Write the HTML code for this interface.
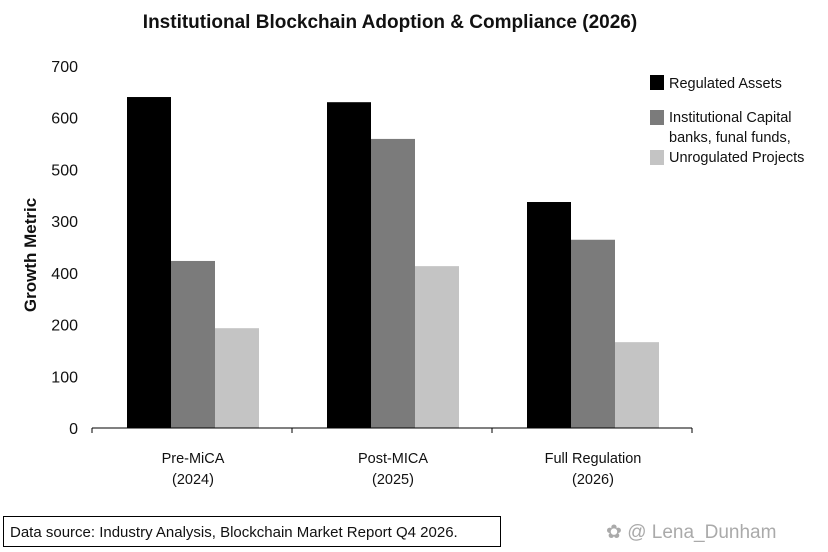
<!DOCTYPE html>
<html><head><meta charset="utf-8"><style>
body{margin:0;background:#fff;font-family:"Liberation Sans",Arial,sans-serif}
svg{display:block}
</style></head><body>
<svg width="828" height="552" viewBox="0 0 828 552">
<rect width="828" height="552" fill="#fff"/>
<text x="390" y="28" text-anchor="middle" font-size="19" font-weight="bold" fill="#111">Institutional Blockchain Adoption &amp; Compliance (2026)</text>
<text transform="translate(36,255) rotate(-90)" text-anchor="middle" font-size="17" font-weight="bold" fill="#111">Growth Metric</text>
<g id="plot"></g>
<g>
<rect x="650" y="75" width="14" height="15" fill="#000"/>
<text x="669" y="88" font-size="14.5" fill="#111">Regulated Assets</text>
<rect x="650" y="110" width="14" height="15" fill="#7b7b7b"/>
<text x="669" y="122" font-size="14.5" fill="#111">Institutional Capital</text>
<text x="669" y="142" font-size="14.5" fill="#111">banks, funal funds,</text>
<rect x="650" y="150" width="14" height="15" fill="#c4c4c4"/>
<text x="669" y="162" font-size="14.5" fill="#111">Unrogulated Projects</text>
</g>
<rect x="3.5" y="516.5" width="497" height="30" fill="none" stroke="#000" stroke-width="1"/>
<text x="10" y="537" font-size="15" fill="#111">Data source: Industry Analysis, Blockchain Market Report Q4 2026.</text>
<text x="606" y="538" font-size="19" fill="#aaa">✿ @ Lena_Dunham</text>
</svg>
<script>
const categories=["Pre-MiCA|(2024)","Post-MICA|(2025)","Full Regulation|(2026)"];
const regulated=[640,630,437];
const institutional=[323,559,364];
const unregulated=[193,313,166];
const tickValues=[0,100,200,300,400,500,600,700];
const tickLabels=["0","100","200","400","300","500","600","700"];
const NS="http://www.w3.org/2000/svg";
const g=document.getElementById('plot');
const x0=92,x1=692,yb=428,yt=66,vmax=700;
const y=v=>yb-(v/vmax)*(yb-yt);
const band=(x1-x0)/categories.length;
const cx=i=>x0+band*(i+0.5)+1;
function mk(t,a){const e=document.createElementNS(NS,t);for(const k in a)e.setAttribute(k,a[k]);g.appendChild(e);return e;}
tickValues.forEach((v,i)=>{
 const t=mk('text',{x:78,y:y(v)+6,'text-anchor':'end','font-size':16,fill:'#111'});
 t.textContent=tickLabels[i];
 
 
});
const series=[[regulated,'#000','regulated'],[institutional,'#7b7b7b','institutional'],[unregulated,'#c4c4c4','unregulated']];
const bw=44;
categories.forEach((c,i)=>{
 series.forEach((s,j)=>{
  const v=s[0][i];
  const r=mk('rect',{x:cx(i)-66+j*bw,y:y(v),width:bw,height:yb-y(v),fill:s[1]});
  
  
 });
 const parts=c.split('|');
 parts.forEach((p,k)=>{
  const t=mk('text',{x:cx(i),y:463+k*21,'text-anchor':'middle','font-size':14.5,fill:'#111'});
  t.textContent=p;
  
  
 });
});
for(let i=0;i<=categories.length;i++){
 const l=mk('line',{x1:x0+band*i,x2:x0+band*i,y1:yb,y2:yb+5,stroke:'#000'});
 
 
}
const ax=mk('line',{x1:x0,x2:x1,y1:yb,y2:yb,stroke:'#000','stroke-width':1});


</script>
</body></html>
